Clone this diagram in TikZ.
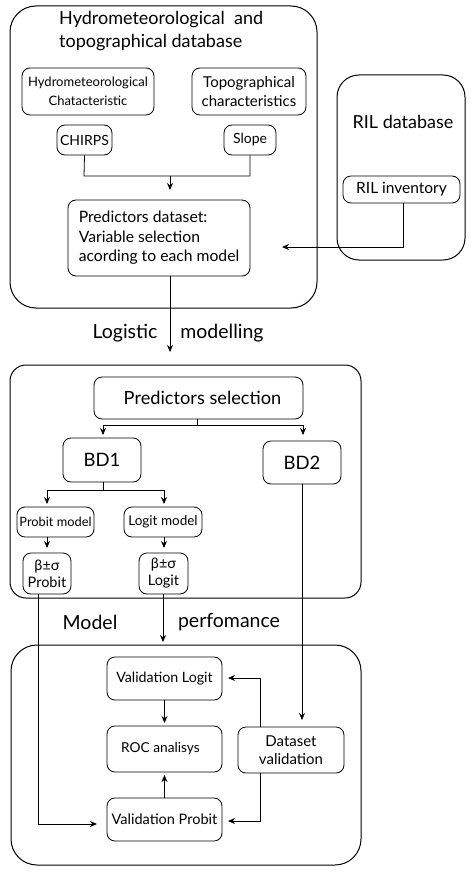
\documentclass[tikz,border=0pt]{standalone}
\usepackage{fontspec}
\setmainfont{Lato}
\usetikzlibrary{arrows.meta}
\newcommand\fz[2]{\fontsize{#1}{#2}\selectfont}
\begin{document}
\begin{tikzpicture}[x=1pt,y=-1pt,
  box/.style={draw, line width=0.8pt, rounded corners=8pt, inner sep=0pt, align=center},
  outer/.style={draw, line width=1pt, rounded corners=#1},
  conn/.style={line width=0.8pt},
  arr/.style={conn, -{Stealth[length=7pt,width=6pt]}},
  lbl/.style={inner sep=0pt, font=\fz{19.5}{22}}]
\useasboundingbox (0,0) rectangle (474,872);
\fill[white] (0,0) rectangle (474,872);

% ---------- top block ----------
\node[outer=26pt, minimum width=307pt, minimum height=302pt, inner sep=0pt] (db1) at (163.5,157) {};
\node[anchor=west, align=left, inner sep=0pt, font=\fz{18}{23}] (t1) at (59,31.5) {Hydrometeorological\ \ and\\topographical database};
\node[box, minimum width=132pt, minimum height=47pt, font=\fz{13}{19}] (hydro) at (88,91.5) {Hydrometeorological\\Chatacteristic};
\node[box, minimum width=114pt, minimum height=47pt, font=\fz{15}{19}] (topo) at (249,91.5) {Topographical\\characteristics};
\node[box, minimum width=55pt, minimum height=30pt, font=\fz{14}{16}] (chirps) at (84.5,140) {CHIRPS};
\node[box, minimum width=52pt, minimum height=30pt, font=\fz{14}{16}] (slope) at (250,140) {Slope};
\node[box, minimum width=182pt, minimum height=76pt, align=left, font=\fz{15.7}{19.5}] (pred) at (159,238) {Predictors dataset:\\Variable selection\\acording to each model};

\node[outer=22pt, minimum width=128pt, minimum height=185pt, inner sep=0pt] (rildb) at (401,167.5) {};
\node[inner sep=0pt, font=\fz{18}{20}] (rilt) at (403,122) {RIL database};
\node[box, minimum width=117pt, minimum height=27pt, font=\fz{15.5}{17}] (rilinv) at (401.5,189.5) {RIL inventory};

\coordinate (cs) at (84,176);
\coordinate (ss) at (250,176);
\coordinate (cm) at (170,176);
\coordinate (pt) at (170,190);
\draw[conn] (chirps.south) -- (cs) -- (ss) -- (slope.south);
\draw[arr] (cm) -- (pt);

\coordinate (rc) at (403,247);
\coordinate (rt) at (282,247);
\draw[arr] (rilinv.south -| rc) -- (rc) -- (rt);

\coordinate (lt) at (170,352);
\draw[arr] (pred.south -| lt) -- (lt);
\node[lbl] (lg) at (125,333) {Logistic};
\node[lbl] (md) at (222,333) {modelling};

% ---------- middle block ----------
\node[outer=16pt, minimum width=351pt, minimum height=233pt, inner sep=0pt] (db2) at (185.5,481.5) {};
\node[box, minimum width=209pt, minimum height=42pt, font=\fz{18.2}{21}] (predsel) at (198.5,398) {\hspace{8pt}Predictors selection};
\node[box, minimum width=78pt, minimum height=44pt, font=\fz{18.5}{21}] (bd1) at (102,460) {BD1};
\node[box, minimum width=78pt, minimum height=43pt, font=\fz{18.5}{21}] (bd2) at (302,462.5) {BD2};
\node[box, minimum width=77pt, minimum height=30pt, font=\fz{12.8}{15}] (probm) at (55.5,522) {Probit model};
\node[box, minimum width=78pt, minimum height=30pt, font=\fz{13.5}{15}] (logm) at (163,522) {Logit model};
\node[box, minimum width=48pt, minimum height=41pt, font=\fz{14.5}{17}] (bprob) at (47,573.5) {β±σ\\Probit};
\node[box, minimum width=49pt, minimum height=41pt, font=\fz{14.5}{17}] (blog) at (163.5,573.5) {β±σ\\Logit};

\coordinate (ps1) at (197,425);
\coordinate (psl) at (103,425);
\coordinate (psr) at (303,425);
\draw[conn] (predsel.south -| ps1) -- (ps1);
\draw[arr] (ps1) -- (psl) -- (103,435);
\draw[arr] (ps1) -- (psr) -- (303,435);

\coordinate (b1) at (103,490);
\draw[conn] (bd1.south -| b1) -- (b1);
\draw[arr] (b1) -- (47,490) -- (47,504);
\draw[arr] (b1) -- (164,490) -- (164,504);
\draw[arr] (probm.south -| bprob) -- (47,548);
\draw[arr] (logm.south -| 164,0) -- (164,548);

\node[lbl] (mo) at (90,622) {Model};
\node[lbl] (pf) at (229,622) {perfomance};

% ---------- bottom block ----------
\node[outer=26pt, minimum width=350pt, minimum height=220pt, inner sep=0pt] (db3) at (186,755) {};
\node[box, minimum width=115pt, minimum height=43pt, font=\fz{14.2}{16}] (vlog) at (164.5,678.5) {Validation Logit};
\node[box, minimum width=115pt, minimum height=46pt, font=\fz{13.7}{16}] (roc) at (164.5,749) {ROC analisys\hspace{8pt}};
\node[box, minimum width=115pt, minimum height=43pt, font=\fz{14.5}{16}] (vprob) at (164.5,819.5) {Validation Probit};
\node[box, minimum width=106pt, minimum height=46pt, font=\fz{15}{18}] (dsv) at (291,750) {Dataset\\validation};

\coordinate (pp) at (38,824);
\draw[arr] (bprob.south -| pp) -- (pp) -- (97,824);
\draw[arr] (blog.south -| 163,0) -- (163,642);
\draw[arr] (bd2.south -| 302,0) -- (302,720);
\draw[arr] (vlog.south) -- (164.5,723);
\draw[arr] (vprob.north) -- (164.5,775);
\coordinate (du) at (260,678);
\coordinate (dd) at (260,821);
\draw[arr] (dsv.north -| du) -- (du) -- (228,678);
\draw[arr] (dsv.south -| dd) -- (dd) -- (228,821);
\end{tikzpicture}
\end{document}
